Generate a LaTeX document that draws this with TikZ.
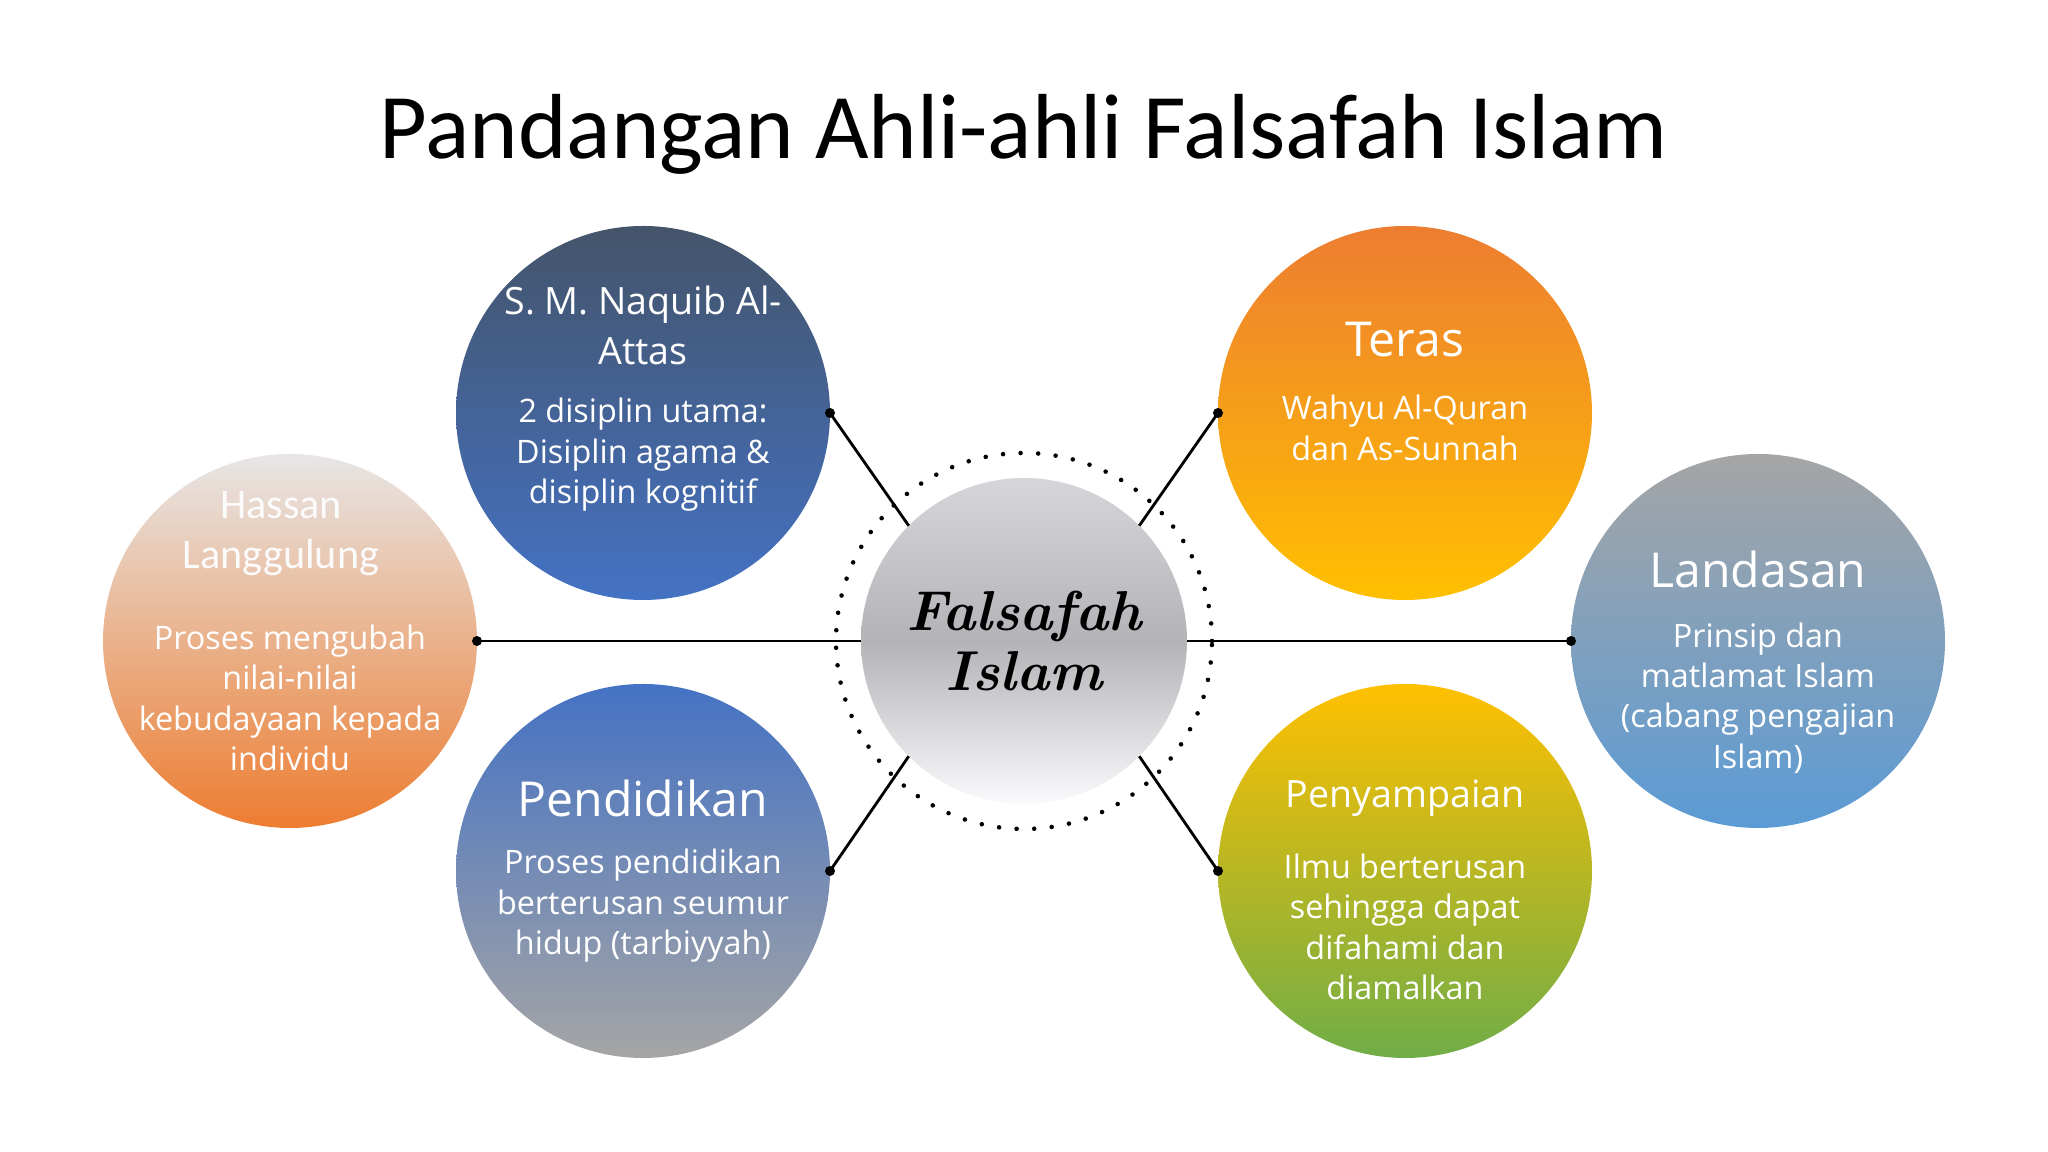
\documentclass[tikz,border=0pt]{standalone}
\usepackage{fontspec}
\setmainfont{Open Sans}
\newfontfamily\titlefont{Carlito}
\newfontfamily\falsafahfont{Latin Modern Roman}
\usepackage{tikz}
\usetikzlibrary{shapes,arrows,positioning}

\definecolor{slate}{HTML}{44546A}
\definecolor{blueacc}{HTML}{4472C4}
\definecolor{orangeacc}{HTML}{ED7D31}
\definecolor{grayacc}{HTML}{A5A5A5}
\definecolor{goldacc}{HTML}{FFC000}
\definecolor{skyacc}{HTML}{5B9BD5}
\definecolor{greenacc}{HTML}{70AD47}
\definecolor{paleacc}{HTML}{E7E6E6}
\definecolor{hubtop}{HTML}{D6D6DA}
\definecolor{hubmid}{HTML}{B4B4B8}
\definecolor{hubbot}{HTML}{FAFAFC}

\tikzstyle{bubble} = [circle,minimum size=3.74cm,inner sep=0pt,outer sep=0pt]
\tikzstyle{hub} = [circle,minimum size=3.26cm,inner sep=0pt,outer sep=0pt,top color=hubtop,bottom color=hubbot,middle color=hubmid]
\tikzstyle{head} = [text=white,align=center,font=\fontsize{13.7}{16}\selectfont]
\tikzstyle{smallhead} = [text=white,align=center,font=\fontsize{10.7}{14}\selectfont]
\tikzstyle{body} = [text=white,align=center,font=\fontsize{9.2}{11.5}\selectfont]
\tikzstyle{link} = [line width=0.8pt]
\tikzstyle{ring} = [line width=1.3pt,line cap=round,dash pattern=on 0pt off 5pt]

\begin{document}
\begin{tikzpicture}
\useasboundingbox[fill=white] (0,0) rectangle (20.48,11.52);
\node (title) [anchor=base,font=\titlefont\fontsize{26.3}{32}\selectfont] at (10.24,9.93) {Pandangan Ahli-ahli Falsafah Islam};

% centre
\node (hub) [hub] at (10.24,5.11) {};
\draw [ring] (hub) circle (1.88);
\node (hub-t) [align=center,font=\falsafahfont\bfseries\itshape\fontsize{16}{17}\selectfont] at (hub) {Falsafah\\Islam};

% circles
\node (attas) [bubble,top color=slate,bottom color=blueacc] at (6.43,7.39) {};
\node (hassan) [bubble,top color=paleacc,bottom color=orangeacc] at (2.90,5.11) {};
\node (didik) [bubble,top color=blueacc,bottom color=grayacc] at (6.43,2.81) {};
\node (teras) [bubble,top color=orangeacc,bottom color=goldacc] at (14.05,7.39) {};
\node (landasan) [bubble,top color=grayacc,bottom color=skyacc] at (17.58,5.11) {};
\node (sampai) [bubble,top color=goldacc,bottom color=greenacc] at (14.05,2.81) {};

% texts
\node (attas-h) [smallhead,yshift=0.875cm] at (attas) {S. M. Naquib Al-\\Attas};
\node (attas-b) [body,yshift=-0.42cm] at (attas) {2 disiplin utama:\\Disiplin agama \&\\disiplin kognitif};
\node (hassan-h) [smallhead,font=\titlefont\fontsize{12}{14.3}\selectfont,text=white!85!paleacc,xshift=-0.09cm,yshift=1.075cm] at (hassan) {Hassan\\Langgulung};
\node (hassan-b) [body,yshift=-0.57cm] at (hassan) {Proses mengubah\\nilai-nilai\\kebudayaan kepada\\individu};
\node (didik-h) [head,yshift=0.73cm] at (didik) {Pendidikan};
\node (didik-b) [body,yshift=-0.35cm] at (didik) {Proses pendidikan\\berterusan seumur\\hidup (tarbiyyah)};
\node (teras-h) [head,yshift=0.73cm] at (teras) {Teras};
\node (teras-b) [body,yshift=-0.15cm] at (teras) {Wahyu Al-Quran\\dan As-Sunnah};
\node (landasan-h) [head,yshift=0.72cm] at (landasan) {Landasan};
\node (landasan-b) [body,yshift=-0.57cm] at (landasan) {Prinsip dan\\matlamat Islam\\(cabang pengajian\\Islam)};
\node (sampai-h) [smallhead,yshift=0.73cm] at (sampai) {Penyampaian};
\node (sampai-b) [body,yshift=-0.56cm] at (sampai) {Ilmu berterusan\\sehingga dapat\\difahami dan\\diamalkan};

% links
\draw [link] (attas.east) -- (hub.135);
\draw [link] (hassan.east) -- (hub.west);
\draw [link] (didik.east) -- (hub.225);
\draw [link] (teras.west) -- (hub.45);
\draw [link] (landasan.west) -- (hub.east);
\draw [link] (sampai.west) -- (hub.315);
\fill (attas.east) circle (0.05);
\fill (hassan.east) circle (0.05);
\fill (didik.east) circle (0.05);
\fill (teras.west) circle (0.05);
\fill (landasan.west) circle (0.05);
\fill (sampai.west) circle (0.05);
\end{tikzpicture}
\end{document}
